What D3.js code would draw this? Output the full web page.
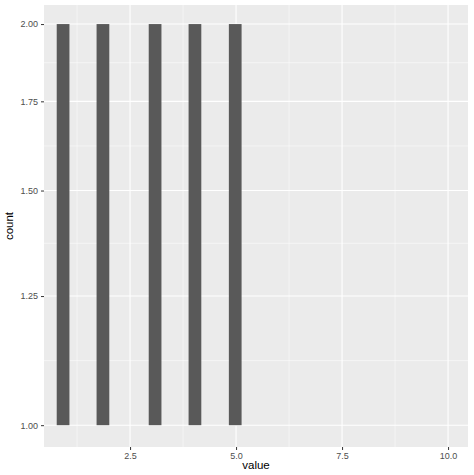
<!DOCTYPE html>
<html><head><meta charset="utf-8">
<script src="https://cdn.jsdelivr.net/npm/d3@7"></script>
<style>body{margin:0;background:#fff}text{font-family:"Liberation Sans",Arial,sans-serif}</style>
</head><body>
<svg id="c" width="474" height="475"></svg>
<script>
const xValues = [0.92, 1.86, 3.09, 4.03, 4.98];
const counts = [2, 2, 2, 2, 2];
const barWidth = 0.3;
const xTicks = [2.5, 5.0, 7.5, 10.0];
const yTicks = [1.00, 1.25, 1.50, 1.75, 2.00];

const svg = d3.select("#c");
const L = 44, R = 468, T = 5, B = 447;
const x = d3.scaleLinear().domain([0.47, 10.47]).range([L, R]);
const y = d3.scaleLog().domain([0.963, 2.067]).range([B, T]);

svg.append("rect").attr("x", L).attr("y", T).attr("width", R - L).attr("height", B - T).attr("fill", "#ebebeb");
const xMinor = [1.25, 3.75, 6.25, 8.75];
const yMinor = d3.pairs(yTicks).map(([a, b]) => Math.sqrt(a * b));
xMinor.forEach(v => svg.append("line").attr("x1", x(v)).attr("x2", x(v)).attr("y1", T).attr("y2", B).attr("stroke", "#fff").attr("stroke-width", 0.5));
yMinor.forEach(v => svg.append("line").attr("y1", y(v)).attr("y2", y(v)).attr("x1", L).attr("x2", R).attr("stroke", "#fff").attr("stroke-width", 0.5));
xTicks.forEach(v => svg.append("line").attr("x1", x(v)).attr("x2", x(v)).attr("y1", T).attr("y2", B).attr("stroke", "#fff").attr("stroke-width", 1.1));
yTicks.forEach(v => svg.append("line").attr("y1", y(v)).attr("y2", y(v)).attr("x1", L).attr("x2", R).attr("stroke", "#fff").attr("stroke-width", 1.1));

svg.selectAll(".bar").data(xValues).enter().append("rect")
  .attr("x", d => x(d - barWidth / 2))
  .attr("width", d => x(d + barWidth / 2) - x(d - barWidth / 2))
  .attr("y", (d, i) => y(counts[i]))
  .attr("height", (d, i) => y(1) - y(counts[i]))
  .attr("fill", "#595959");

const xa = svg.append("g").attr("transform", `translate(0,${B})`)
  .call(d3.axisBottom(x).tickValues(xTicks).tickFormat(d3.format(".1f")).tickSize(3).tickPadding(3));
const ya = svg.append("g").attr("transform", `translate(${L},0)`)
  .call(d3.axisLeft(y).tickValues(yTicks).tickFormat(d3.format(".2f")).tickSize(3).tickPadding(3));
[xa, ya].forEach(a => {
  a.select(".domain").remove();
  a.selectAll("line").attr("stroke", "#333");
  a.selectAll("text").attr("fill", "#4d4d4d").attr("font-size", 9);
});
svg.append("text").attr("x", (L + R) / 2).attr("y", 469).attr("text-anchor", "middle").attr("font-size", 11.5).text("value");
svg.append("text").attr("transform", `translate(13,${(T + B) / 2}) rotate(-90)`).attr("text-anchor", "middle").attr("font-size", 11.5).text("count");
</script>
</body></html>
